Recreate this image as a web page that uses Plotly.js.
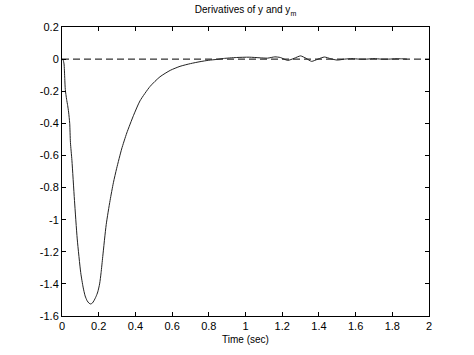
<!DOCTYPE html>
<html>
<head>
<meta charset="utf-8">
<script src="https://cdn.plot.ly/plotly-3.0.1.min.js"></script>
<style>html,body{margin:0;padding:0;background:#fff;}#chart{width:474px;height:355px;}</style>
</head>
<body>
<div id="chart"></div>
<script>
// Derivative of y (solid curve)
const timeY = [0, 0.006, 0.011, 0.015, 0.018, 0.025, 0.031, 0.036, 0.042, 0.046, 0.054, 0.068, 0.083, 0.102, 0.115, 0.126, 0.137, 0.147, 0.156, 0.165, 0.174, 0.185, 0.195, 0.205, 0.213, 0.222, 0.241, 0.262, 0.28, 0.298, 0.325, 0.353, 0.39, 0.425, 0.48, 0.534, 0.59, 0.643, 0.7, 0.752, 0.8, 0.843, 0.88, 0.95, 1.02, 1.08, 1.12, 1.16, 1.19, 1.23, 1.265, 1.30, 1.33, 1.36, 1.395, 1.43, 1.465, 1.50, 1.54, 1.58, 1.62, 1.66, 1.70, 1.74, 1.78, 1.82, 1.85, 1.88];
const dY = [0, -0.005, -0.03, -0.12, -0.19, -0.25, -0.29, -0.33, -0.40, -0.52, -0.63, -0.88, -1.12, -1.33, -1.42, -1.475, -1.505, -1.52, -1.525, -1.52, -1.505, -1.48, -1.45, -1.40, -1.33, -1.23, -1.03, -0.88, -0.77, -0.68, -0.56, -0.46, -0.35, -0.26, -0.17, -0.11, -0.07, -0.045, -0.028, -0.016, -0.007, -0.002, 0.004, 0.01, 0.012, 0.008, 0.006, 0.014, 0.01, -0.008, 0.005, 0.02, 0.005, -0.014, 0.0, 0.013, 0.002, -0.006, 0.0, 0.003, 0.0, 0.0, 0.003, 0.0, 0.0, 0.002, 0.002, 0.0];
// Derivative of y_m (dashed line)
const timeYm = [0, 2];
const dYm = [0, 0];
const xTicks = [0, 0.2, 0.4, 0.6, 0.8, 1, 1.2, 1.4, 1.6, 1.8, 2];
const yTicks = [0.2, 0, -0.2, -0.4, -0.6, -0.8, -1, -1.2, -1.4, -1.6];

const font = {family: 'Liberation Sans, Arial, sans-serif', size: 11, color: '#000'};
const traces = [
  {x: timeYm, y: dYm, mode: 'lines', line: {color: '#000', width: 1, dash: '7px,4px'}, hoverinfo: 'skip'},
  {x: timeY, y: dY, mode: 'lines', line: {color: '#222', width: 1, shape: 'spline', smoothing: 0.6}, hoverinfo: 'skip'}
];
const axisCommon = {
  showline: true, linecolor: '#000', linewidth: 1, mirror: 'allticks',
  ticks: 'inside', ticklen: 4, tickcolor: '#000', tickwidth: 1,
  showgrid: false, zeroline: false, tickfont: font, automargin: false
};
const layout = {
  width: 474, height: 355,
  margin: {l: 62, r: 45, t: 27, b: 39},
  paper_bgcolor: '#fff', plot_bgcolor: '#fff',
  showlegend: false,
  font: font,
  title: {text: 'Derivatives of y and y<sub>m</sub>', font: {family: font.family, size: 10, color: '#000'}, x: 0.5, xref: 'paper', y: 0.972, yanchor: 'middle'},
  xaxis: Object.assign({}, axisCommon, {range: [0, 2], tickvals: xTicks, ticktext: xTicks.map(String),
    title: {text: 'Time (sec)', font: {family: font.family, size: 10, color: '#000'}, standoff: 4}}),
  yaxis: Object.assign({}, axisCommon, {range: [-1.6, 0.2], tickvals: yTicks, ticktext: yTicks.map(String)})
};
Plotly.newPlot('chart', traces, layout, {staticPlot: true, displayModeBar: false});
</script>
</body>
</html>
